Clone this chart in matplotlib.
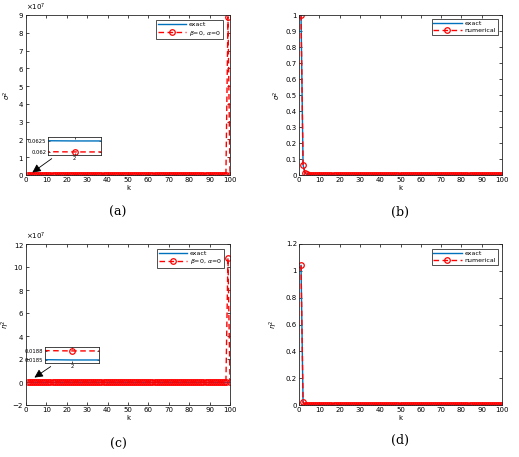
import matplotlib
matplotlib.use("Agg")
import matplotlib.pyplot as plt
from matplotlib.ticker import ScalarFormatter

plt.rcParams['font.family'] = ['DejaVu Sans']
plt.rcParams['mathtext.fontset'] = 'dejavusans'

# ---------------- data ----------------
k = list(range(1, 101))
x_ticks = [0, 10, 20, 30, 40, 50, 60, 70, 80, 90, 100]

sigma_exact = [1.0, 0.0625, 0.0123, 0.0039, 0.0016, 0.0008, 0.0004, 0.0002] + [0.0] * 92
sigma_num_b = [1.0, 0.062, 0.0123, 0.0039, 0.0016, 0.0008, 0.0004, 0.0002] + [0.0] * 92
sigma_num_a = [1.0, 0.062, 0.0123, 0.0039, 0.0016, 0.0008, 0.0004, 0.0002] + [0.0] * 90 + [8.9e7, 0.0]

eta_exact = [1.04, 0.0185, 0.0016, 0.0003] + [0.0] * 96
eta_num_d = [1.04, 0.0188, 0.0016, 0.0003] + [0.0] * 96
eta_num_c = [1.04, 0.0188, 0.0016, 0.0003] + [0.0] * 94 + [10.8e7, 0.0]

yticks_a = [0, 1e7, 2e7, 3e7, 4e7, 5e7, 6e7, 7e7, 8e7, 9e7]
yticks_b = [0, 0.1, 0.2, 0.3, 0.4, 0.5, 0.6, 0.7, 0.8, 0.9, 1.0]
yticks_c = [-2e7, 0, 2e7, 4e7, 6e7, 8e7, 10e7, 12e7]
yticks_d = [0, 0.2, 0.4, 0.6, 0.8, 1.0, 1.2]

inset_a_yticks = [0.062, 0.0625]
inset_a_ylabels = ['0.062', '0.0625']
inset_c_yticks = [0.0185, 0.0188]
inset_c_ylabels = ['0.0185', '0.0188']

leg_ab = ['exact', r'$\beta$=0, $\alpha$=0']
leg_num = ['exact', 'numerical']

# ---------------- layout ----------------
W, H = 519, 457
fig = plt.figure(figsize=(W / 100, H / 100), dpi=100)


def rect(l, r, t, b):
    return [l / W, 1 - b / H, (r - l) / W, (b - t) / H]


BLUE = '#0072BD'
RED = '#FF0000'
MS = 4.0


def style(ax, fs=5):
    ax.tick_params(direction='in', top=True, right=True, length=2.2, width=0.5,
                   labelsize=fs, pad=1.5)
    for s in ax.spines.values():
        s.set_linewidth(0.6)
        s.set_color('#262626')


def draw_main(ax, yexact, ynum, labels, ylim, yticks, ylab, legpos, ylx):
    ax.plot(k, yexact, '-', color=BLUE, lw=1.0, label=labels[0])
    ax.plot(k, ynum, '--', color=RED, lw=1.0, marker='o', markersize=MS,
            markerfacecolor='none', markeredgewidth=0.9, label=labels[1],
            dashes=(4, 2.5))
    ax.set_xlim(0, 100)
    ax.set_ylim(*ylim)
    ax.set_xticks(x_ticks)
    ax.set_yticks(yticks)
    style(ax)
    ax.set_xlabel('k', fontsize=5, labelpad=1.5)
    ax.set_ylabel(ylab, fontsize=5)
    ax.yaxis.set_label_coords(ylx, 0.5)
    leg = ax.legend(loc='upper right', bbox_to_anchor=legpos, borderaxespad=0,
                    fontsize=4.5, frameon=True, fancybox=False, handlelength=4.5,
                    borderpad=0.3, labelspacing=0.2, handletextpad=0.5)
    leg.get_frame().set_edgecolor('black')
    leg.get_frame().set_linewidth(0.6)
    return ax


def sci(ax):
    fmt = ScalarFormatter(useMathText=True)
    fmt.set_powerlimits((7, 7))
    ax.yaxis.set_major_formatter(fmt)
    ax.yaxis.get_offset_text().set_fontsize(5)


def inset(rect_px, yexact, ynum, ylim, yt, ytl):
    ax = fig.add_axes(rect(*rect_px))
    ax.plot(k, yexact, '-', color=BLUE, lw=1.0)
    ax.plot(k, ynum, '--', color=RED, lw=1.0, marker='o', markersize=MS,
            markerfacecolor='none', markeredgewidth=0.9, dashes=(4, 2.5))
    ax.set_xlim(2 - 1e-5, 2 + 1e-5)
    ax.set_ylim(*ylim)
    ax.set_xticks([2])
    ax.set_xticklabels(['2'])
    ax.set_yticks(yt)
    ax.set_yticklabels(ytl)
    style(ax, fs=3.8)
    ax.tick_params(length=1.5, pad=1)
    return ax


# (a)
axA = fig.add_axes(rect(26, 230, 15, 175))
draw_main(axA, sigma_exact, sigma_num_a, leg_ab, (0, 9e7), yticks_a, r'$\sigma^2$',
          (1 - 7 / 204, 1 - 5 / 160), -0.064)
sci(axA)
inset((48, 101, 137, 155), sigma_exact, sigma_num_a, (0.06186, 0.06268),
      inset_a_yticks, inset_a_ylabels)
axA.annotate('', xy=(2, 0.05e7), xycoords='data', xytext=(54, H - 157),
             textcoords='figure pixels',
             arrowprops=dict(arrowstyle='-|>,head_length=0.5,head_width=0.25',
                             color='black', lw=0.6))

# (b)
axB = fig.add_axes(rect(299, 502, 15, 175))
draw_main(axB, sigma_exact, sigma_num_b, leg_num, (0, 1.0), yticks_b, r'$\sigma^2$',
          (1 - 4 / 203, 1 - 4 / 160), -0.079)
axB.set_yticklabels(['0', '0.1', '0.2', '0.3', '0.4', '0.5', '0.6', '0.7', '0.8', '0.9', '1'])

# (c)
axC = fig.add_axes(rect(26, 230, 244, 405))
draw_main(axC, eta_exact, eta_num_c, leg_ab, (-2e7, 12e7), yticks_c, r'$\eta^2$',
          (1 - 6 / 204, 1 - 5 / 161), -0.07)
sci(axC)
inset((45, 99, 347, 363), eta_exact, eta_num_c, (0.0184, 0.01893),
      inset_c_yticks, inset_c_ylabels)
axC.annotate('', xy=(3, 0.25e7), xycoords='data', xytext=(53, H - 365),
             textcoords='figure pixels',
             arrowprops=dict(arrowstyle='-|>,head_length=0.5,head_width=0.25',
                             color='black', lw=0.6))

# (d)
axD = fig.add_axes(rect(299, 502, 244, 405))
draw_main(axD, eta_exact, eta_num_d, leg_num, (0, 1.2), yticks_d, r'$\eta^2$',
          (1 - 4 / 203, 1 - 5 / 161), -0.094)
axD.set_yticklabels(['0', '0.2', '0.4', '0.6', '0.8', '1', '1.2'])

# captions
cap = dict(fontsize=9, ha='center', va='center', family='DejaVu Serif')
fig.text(118 / W, 1 - 212 / H, '(a)', **cap)
fig.text(400 / W, 1 - 212 / H, '(b)', **cap)
fig.text(118 / W, 1 - 444 / H, '(c)', **cap)
fig.text(400 / W, 1 - 440 / H, '(d)', **cap)

fig.savefig('out.png', dpi=100, facecolor='white')
